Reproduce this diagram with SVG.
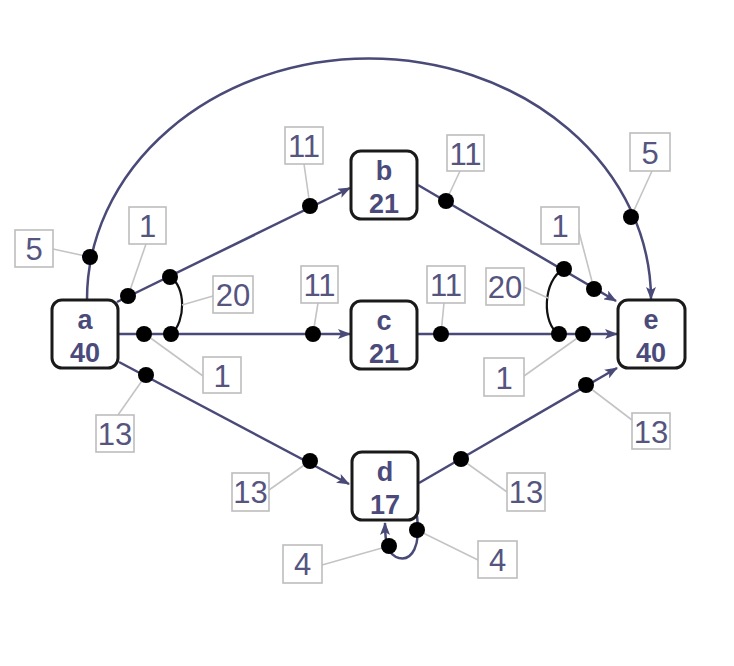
<svg xmlns="http://www.w3.org/2000/svg" width="734" height="666" viewBox="0 0 734 666">
<defs>
<marker id="arr" viewBox="0 0 13 10" refX="12" refY="5" markerWidth="13" markerHeight="10" markerUnits="userSpaceOnUse" orient="auto">
<path d="M0,0 L13,5 L0,10 L3,5 Z" fill="#4a4a78"/>
</marker>
<style>
.edge{fill:none;stroke:#4a4a78;stroke-width:2.5}
.join{fill:none;stroke:#111;stroke-width:2.2}
.lead{fill:none;stroke:#c4c4c4;stroke-width:1.6}
.dot{fill:#000}
.node rect{fill:#fff;stroke:#1a1a1a;stroke-width:3}
.node text{font-family:"Liberation Sans",Arial,sans-serif;font-weight:bold;font-size:27px;fill:#4b4b7b;text-anchor:middle}
.lbl rect{fill:#fff;stroke:#bdbdbd;stroke-width:1.6}
.lbl text{font-family:"Liberation Sans",Arial,sans-serif;font-size:31px;fill:#55557f;text-anchor:middle}
</style>
</defs>
<rect width="734" height="666" fill="#fff"/>

<g id="connectors">
<path class="edge" d="M87,300 A282,241 0 0 1 651,299" marker-end="url(#arr)"/>
<path class="edge" d="M117,302 L350,188" marker-end="url(#arr)"/>
<path class="edge" d="M118,334 L350,334" marker-end="url(#arr)"/>
<path class="edge" d="M119,362 L349,484" marker-end="url(#arr)"/>
<path class="edge" d="M418,185 L616,301" marker-end="url(#arr)"/>
<path class="edge" d="M417,334 L617,334" marker-end="url(#arr)"/>
<path class="edge" d="M419,483 L617,368" marker-end="url(#arr)"/>
<path class="edge" d="M417,516 C421,546 412,561 399,558 C388,555 385,545 385,523" marker-end="url(#arr)"/>
<path class="join" d="M170,277 C186,286 186,322 171,334"/>
<path class="join" d="M564,269 C542,280 542,325 559,334"/>
<g id="leaders">
<path class="lead" d="M53,249 L90,257"/>
<path class="lead" d="M146,244 L128,296"/>
<path class="lead" d="M213,296 L182,305"/>
<path class="lead" d="M203,376 L145,334"/>
<path class="lead" d="M118,415 L146,375"/>
<path class="lead" d="M304,164 L310,206"/>
<path class="lead" d="M460,171 L446,201"/>
<path class="lead" d="M318,303 L313,334"/>
<path class="lead" d="M444,303 L441,334"/>
<path class="lead" d="M524,287 L548,298"/>
<path class="lead" d="M578,228 L594,289"/>
<path class="lead" d="M652,171 L631,217"/>
<path class="lead" d="M524,376 L583,334"/>
<path class="lead" d="M632,420 L586,385"/>
<path class="lead" d="M269,490 L310,461"/>
<path class="lead" d="M507,492 L461,459"/>
<path class="lead" d="M322,565 L389,546"/>
<path class="lead" d="M478,560 L417,530"/>
</g>
<g id="dots">
<circle class="dot" cx="90" cy="257" r="8"/>
<circle class="dot" cx="128" cy="296" r="8"/>
<circle class="dot" cx="170" cy="277" r="8"/>
<circle class="dot" cx="144" cy="334" r="8"/>
<circle class="dot" cx="171" cy="334" r="8"/>
<circle class="dot" cx="146" cy="375" r="8"/>
<circle class="dot" cx="310" cy="206" r="8"/>
<circle class="dot" cx="313" cy="334" r="8"/>
<circle class="dot" cx="310" cy="461" r="8"/>
<circle class="dot" cx="446" cy="201" r="8"/>
<circle class="dot" cx="441" cy="334" r="8"/>
<circle class="dot" cx="461" cy="459" r="8"/>
<circle class="dot" cx="564" cy="269" r="8"/>
<circle class="dot" cx="594" cy="289" r="8"/>
<circle class="dot" cx="559" cy="334" r="8"/>
<circle class="dot" cx="583" cy="334" r="8"/>
<circle class="dot" cx="586" cy="385" r="8"/>
<circle class="dot" cx="631" cy="217" r="8"/>
<circle class="dot" cx="417" cy="530" r="8"/>
<circle class="dot" cx="389" cy="546" r="8"/>
</g>
</g>

<g id="node-a" class="node"><rect x="52" y="300" width="66" height="68" rx="10"/><text x="85" y="329">a</text><text x="85" y="362">40</text></g>
<g id="node-b" class="node"><rect x="351" y="151" width="66" height="68" rx="10"/><text x="384" y="180">b</text><text x="384" y="213">21</text></g>
<g id="node-c" class="node"><rect x="351" y="301" width="66" height="68" rx="10"/><text x="384" y="330">c</text><text x="384" y="363">21</text></g>
<g id="node-d" class="node"><rect x="352" y="452" width="66" height="68" rx="10"/><text x="385" y="481">d</text><text x="385" y="514">17</text></g>
<g id="node-e" class="node"><rect x="618" y="300" width="67" height="68" rx="10"/><text x="651" y="329">e</text><text x="651" y="362">40</text></g>

<g id="labels">
<g class="lbl"><rect x="15" y="230" width="38" height="37"/><text x="34" y="260">5</text></g>
<g class="lbl"><rect x="129" y="207" width="37" height="37"/><text x="147.5" y="237">1</text></g>
<g class="lbl"><rect x="213" y="276" width="40" height="37"/><text x="233" y="306">20</text></g>
<g class="lbl"><rect x="203" y="357" width="38" height="36"/><text x="222" y="387">1</text></g>
<g class="lbl"><rect x="96" y="415" width="38" height="37"/><text x="115" y="445">13</text></g>
<g class="lbl"><rect x="285" y="127" width="38" height="37"/><text x="304" y="157">11</text></g>
<g class="lbl"><rect x="447" y="135" width="37" height="36"/><text x="465.5" y="165">11</text></g>
<g class="lbl"><rect x="301" y="266" width="37" height="37"/><text x="319.5" y="296">11</text></g>
<g class="lbl"><rect x="427" y="266" width="38" height="37"/><text x="446" y="296">11</text></g>
<g class="lbl"><rect x="486" y="268" width="38" height="37"/><text x="505" y="298">20</text></g>
<g class="lbl"><rect x="541" y="207" width="38" height="37"/><text x="560" y="237">1</text></g>
<g class="lbl"><rect x="630" y="133" width="40" height="38"/><text x="650" y="164">5</text></g>
<g class="lbl"><rect x="484" y="358" width="40" height="38"/><text x="504" y="389">1</text></g>
<g class="lbl"><rect x="632" y="413" width="38" height="36"/><text x="651" y="443">13</text></g>
<g class="lbl"><rect x="232" y="473" width="37" height="38"/><text x="250.5" y="503">13</text></g>
<g class="lbl"><rect x="507" y="473" width="38" height="38"/><text x="526" y="503">13</text></g>
<g class="lbl"><rect x="283" y="545" width="39" height="38"/><text x="302.5" y="575">4</text></g>
<g class="lbl"><rect x="478" y="541" width="39" height="37"/><text x="497.5" y="571">4</text></g>
</g>
</svg>
